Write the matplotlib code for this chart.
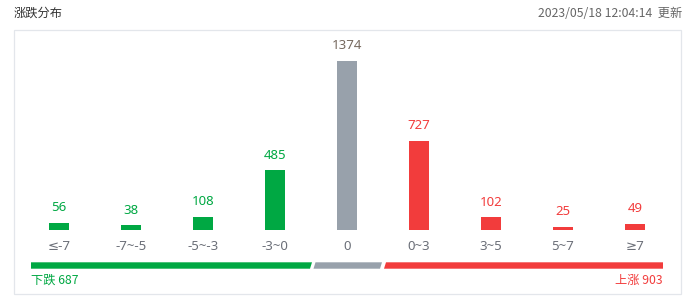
import numpy as np
import matplotlib
matplotlib.use("Agg")
import matplotlib.pyplot as plt
from matplotlib.patches import Rectangle, Polygon

plt.rcParams['font.family'] = ['Noto Sans CJK SC', 'DejaVu Sans']

# data
categories = ['≤-7', '-7~-5', '-5~-3', '-3~0', '0', '0~3', '3~5', '5~7', '≥7']
counts = [56, 38, 108, 485, 1374, 727, 102, 25, 49]
down_total = 687
up_total = 903
title = '涨跌分布'
stamp = '2023/05/18 12:04:14  更新'

GREEN = '#00a843'
RED = '#f23c3c'
GRAY = '#98a1ab'
bar_colors = [GREEN] * 4 + [GRAY] + [RED] * 4
label_colors = [GREEN] * 4 + ['#76695f'] + [RED] * 4
latin = ['Noto Sans', 'DejaVu Sans']

W, H = 691, 308
fig = plt.figure(figsize=(W / 100, H / 100), dpi=100)

# background canvas in pixel coordinates (card, header, summary bar)
bg = fig.add_axes([0, 0, 1, 1])
bg.set_xlim(0, W)
bg.set_ylim(H, 0)
bg.axis('off')

bg.add_patch(Rectangle((14.5, 29.5), 667, 264, fill=False,
                       edgecolor='#e3e6eb', lw=0.9))
bg.text(14, 13.5, title, fontsize=8.8, color='#333333', va='center', ha='left')
bg.text(682, 13.5, stamp, fontsize=8.8, color='#666666', va='center', ha='right')

# summary bar: down / flat / up segments with slanted joints
y0, y1 = 262.3, 268.7
sl = 2.0
segs = [
    (31, 312, GREEN, False, True),
    (313.5, 382, GRAY, True, True),
    (384, 663, RED, True, False),
]
for xa, xb, col, slant_l, slant_r in segs:
    lt = xa + (sl if slant_l else 0)
    rb = xb - (sl if slant_r else 0)
    pts = [(xa, y1), (lt, y0), (xb, y0), (rb, y1)]
    bg.add_patch(Polygon(pts, closed=True, facecolor=col, edgecolor='none'))

bg.text(31, 280.5, f'下跌 {down_total}', fontsize=8.8, color=GREEN, va='center', ha='left')
bg.text(663, 280.5, f'上涨 {up_total}', fontsize=8.8, color=RED, va='center', ha='right')

# bar chart axes: slots of 72 px, first bar centred at x=59, baseline at y=230
slot = 72
left = 59 - slot / 2
ax_h = 200
ax = fig.add_axes([left / W, (H - 230) / H, slot * 9 / W, ax_h / H])
ax.patch.set_alpha(0)
x = np.arange(len(categories))
ax.bar(x, counts, width=20 / slot, color=bar_colors)
ax.set_xlim(-0.5, len(categories) - 0.5)
ax.set_ylim(0, max(counts) * ax_h / 169)
ax.axis('off')

for i, v in enumerate(counts):
    ax.annotate(str(v), (i, v), xytext=(0, 11), textcoords='offset points',
                ha='center', va='center', fontsize=9.5, color=label_colors[i],
                family=latin)
    ax.annotate(categories[i], (i, 0), xytext=(0, -12), textcoords='offset points',
                ha='center', va='center', fontsize=9.5, color='#6b6f78',
                family=latin)

fig.savefig('out.png', dpi=100)
